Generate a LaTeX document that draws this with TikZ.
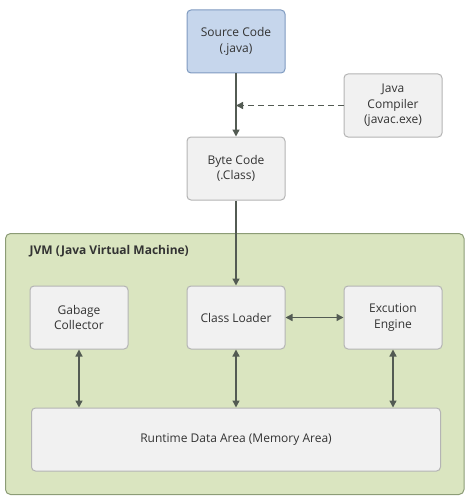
\documentclass[tikz,border=0pt]{standalone}
\usepackage{fontspec}
\setmainfont{Open Sans}
\usetikzlibrary{arrows.meta,positioning,backgrounds}
\definecolor{boxgray}{HTML}{F1F1F1}
\definecolor{boxline}{HTML}{B4B4B4}
\definecolor{srcblue}{HTML}{C6D6EC}
\definecolor{srcline}{HTML}{7F9AC0}
\definecolor{jvmgreen}{HTML}{DAE5C0}
\definecolor{jvmline}{HTML}{8C9C76}
\definecolor{arrgray}{HTML}{535B53}
\definecolor{txtdark}{HTML}{333333}

\begin{document}
\begin{tikzpicture}[
    node distance=63pt and 58pt,
    box/.style={rectangle, rounded corners=4pt, draw=boxline, fill=boxgray, text=txtdark, line width=1pt,
                font=\fontsize{12}{15.5}\selectfont, minimum height=63pt, minimum width=98pt, align=center, inner sep=2pt},
    srcbox/.style={box, draw=srcline, fill=srcblue},
    arr/.style={-{Triangle[length=7pt,width=7pt]}, arrgray, line width=1.4pt},
    biarr/.style={arr, {Triangle[length=7pt,width=7pt]}-{Triangle[length=7pt,width=7pt]}},
    dasharr/.style={arr, dash pattern=on 6pt off 4pt}
  ]
  \useasboundingbox (0,0) rectangle (474pt,-500pt);
  \node[srcbox] (src) at (236pt,-41.5pt) {Source Code\\(.java)};
  \node[box, below=of src] (byte) {Byte Code\\(.Class)};
  \node[box, below right=0pt and 58pt of src] (javac) {Java\\Compiler\\(javac.exe)};

  \node[box, below=85pt of byte] (loader) {Class Loader};
  \node[box, left=of loader] (gc) {Gabage\\Collector};
  \node[box, right=of loader] (engine) {Excution\\Engine};
  \node[box, below=58pt of loader, minimum width=409pt] (rda) {Runtime Data Area (Memory Area)};
  \node[anchor=west, inner sep=0pt, text=txtdark, font=\fontsize{12}{14}\selectfont\bfseries]
    (jvmlabel) at ([yshift=34pt]gc.north west) {JVM (Java Virtual Machine)};

  \begin{scope}[on background layer]
    \draw[draw=jvmline, fill=jvmgreen, rounded corners=5pt, line width=1pt]
      ([shift={(-24pt,52pt)}]gc.north west) rectangle ([shift={(23pt,-23pt)}]rda.south east);
  \end{scope}

  \draw[arr] (src) -- (byte);
  \draw[dasharr] (javac.west) -- (javac.west -| src.south);
  \draw[arr] (byte) -- (loader);
  \draw[biarr] (loader) -- (engine);
  \draw[biarr] (gc) -- (gc |- rda.north);
  \draw[biarr] (loader) -- (rda);
  \draw[biarr] (engine) -- (engine |- rda.north);
\end{tikzpicture}
\end{document}
